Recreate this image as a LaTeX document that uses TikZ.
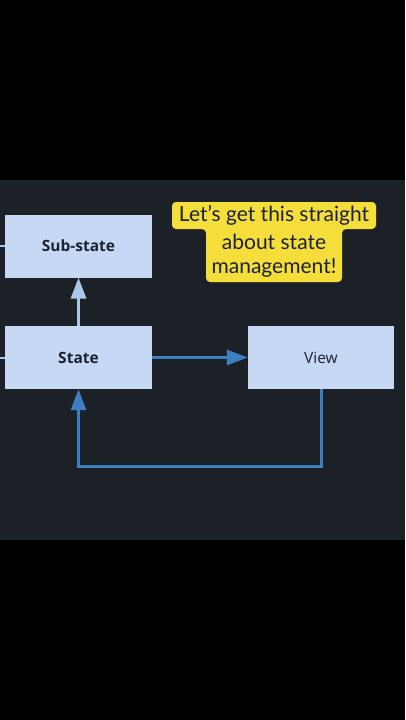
\documentclass[tikz,border=0pt]{standalone}
\usepackage{fontspec}
\setmainfont{Open Sans}
\newfontfamily\calloutfont{Lato}
\usetikzlibrary{arrows.meta}
\definecolor{panel}{HTML}{1C2127}
\definecolor{boxfill}{HTML}{C6D8F3}
\definecolor{boxtext}{HTML}{1B2230}
\definecolor{lightarrow}{HTML}{A9C9E6}
\definecolor{bluearrow}{HTML}{3E7FC1}
\definecolor{callout}{HTML}{F6DE3A}
\tikzset{
  x=1pt, y=-1pt,
  statebox/.style={draw=none, fill=boxfill, minimum width=147pt, minimum height=63pt, inner sep=0pt, text=boxtext, font=\fontsize{15.5}{18}\selectfont},
  lightline/.style={draw=lightarrow, line width=3.3pt},
  blueline/.style={draw=bluearrow, line width=3pt},
  lighthead/.style={-{Triangle[length=21pt,width=15pt]}},
  bluehead/.style={-{Triangle[length=21pt,width=15pt]}},
  calltext/.style={font=\calloutfont\fontsize{21}{23}\selectfont, text=boxtext, inner sep=0pt}
}
\begin{document}
\begin{tikzpicture}
\fill[black] (0,0) rectangle (405,720);
\fill[panel] (0,180) rectangle (405,540);
\useasboundingbox (0,0) rectangle (405,720);

\node[statebox] (sub) at (78.5,246) {\bfseries Sub-state};
\node[statebox] (state) at (78.5,357.5) {\bfseries State};
\node[statebox, minimum width=146pt] (view) at (321,357.5) {View};

\coordinate (subin) at (0,246);
\coordinate (statein) at (0,357.5);
\draw[lightline, line width=2pt] (subin) -- (sub.west);
\draw[lightline, line width=2pt] (statein) -- (state.west);

\draw[lightline, lighthead] (state.north) -- (sub.south);
\draw[blueline, bluehead] (state.east) -- (view.west);
\coordinate (corner1) at (321,466);
\coordinate (corner2) at (78.5,466);
\draw[blueline, bluehead] (view.south) -- (corner1) -- (corner2) -- (state.south);

\fill[callout, rounded corners=4pt] (172,202) -- (376,202) -- (376,229) -- (342,229) -- (342,282) -- (206,282) -- (206,229) -- (172,229) -- cycle;
\node[calltext] (l1) at (274,215) {Let’s get this straight};
\node[calltext] (l2) at (274,242) {about state};
\node[calltext] (l3) at (274,268) {management!};
\end{tikzpicture}
\end{document}
